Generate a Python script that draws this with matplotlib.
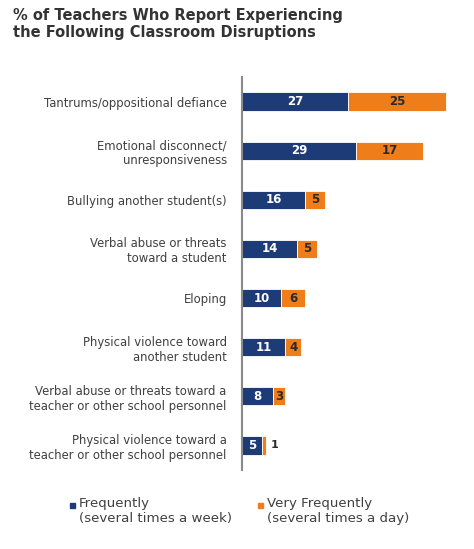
import matplotlib.pyplot as plt
from matplotlib.patches import Rectangle

categories = [
    "Tantrums/oppositional defiance",
    "Emotional disconnect/\nunresponsiveness",
    "Bullying another student(s)",
    "Verbal abuse or threats\ntoward a student",
    "Eloping",
    "Physical violence toward\nanother student",
    "Verbal abuse or threats toward a\nteacher or other school personnel",
    "Physical violence toward a\nteacher or other school personnel",
]
frequently = [27, 29, 16, 14, 10, 11, 8, 5]
very_frequently = [25, 17, 5, 5, 6, 4, 3, 1]
series_names = ["Frequently\n(several times a week)", "Very Frequently\n(several times a day)"]

BLUE = "#1c3b77"
ORANGE = "#ee7d1a"
GREY = "#404040"

fig = plt.figure(figsize=(4.74, 5.49), dpi=100)
W, H = 474, 549
# axes box in pixels: left 242, right 470, top 77, bottom 470
ax = fig.add_axes([242 / W, 1 - 470 / H, (470 - 242) / W, (470 - 77) / H])

y = list(range(len(categories)))
ax.barh(y, frequently, height=0.37, color=BLUE, edgecolor="white", linewidth=0.6)
ax.barh(y, very_frequently, left=frequently, height=0.37, color=ORANGE,
        edgecolor="white", linewidth=0.6)

for i, (f, v) in enumerate(zip(frequently, very_frequently)):
    ax.text(f / 2, i, str(f), ha="center", va="center", color="white",
            fontsize=8.5, fontweight="bold")
    if v >= 2:
        ax.text(f + v / 2, i, str(v), ha="center", va="center", color="#2a2a2a",
                fontsize=8.5, fontweight="bold")
    else:
        ax.text(f + v + 1.2, i, str(v), ha="left", va="center", color="#2a2a2a",
                fontsize=8, fontweight="bold")

ax.set_xlim(0, 58)
ax.set_ylim(len(categories) - 0.5, -0.5)
ax.set_yticks(y)
ax.set_yticklabels(categories, fontsize=8.4, color=GREY, linespacing=1.2)
ax.tick_params(axis="y", length=0, pad=11)
ax.set_xticks([])
for side in ["top", "right", "bottom"]:
    ax.spines[side].set_visible(False)
ax.spines["left"].set_color("#8a8a8a")
ax.spines["left"].set_linewidth(1.5)

fig.text(13 / W, 1 - 8 / H,
         "% of Teachers Who Report Experiencing\nthe Following Classroom Disruptions",
         ha="left", va="top", fontsize=10.5, fontweight="bold", color="#333333",
         linespacing=1.15)

# legend
for x0, name, col in [(70, series_names[0], BLUE), (258, series_names[1], ORANGE)]:
    fig.patches.append(Rectangle((x0 / W, 1 - 508 / H), 5 / W, 5 / H,
                                 transform=fig.transFigure, color=col))
    fig.text((x0 + 9) / W, 1 - 497 / H, name, ha="left", va="top",
             fontsize=9.6, color=GREY, linespacing=1.2)

fig.savefig("out.png", dpi=100)
